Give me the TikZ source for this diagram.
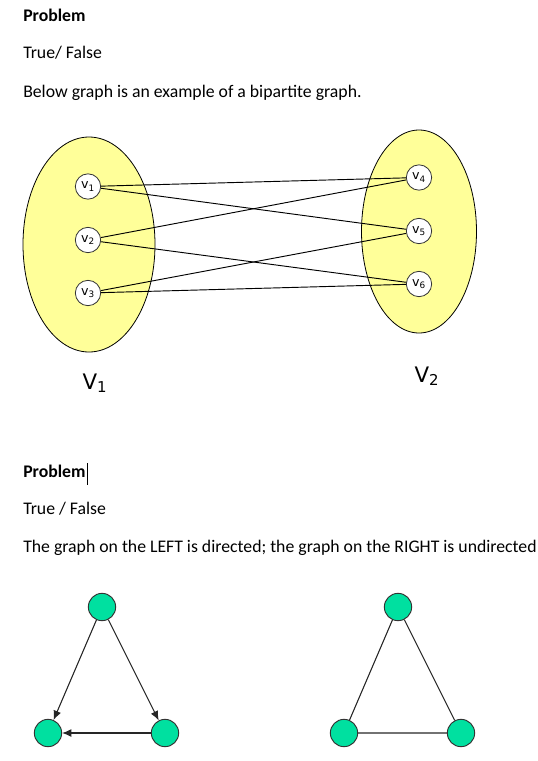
\documentclass[tikz,border=0pt]{standalone}
\usepackage{fontspec}
\setmainfont{Carlito}
\newfontfamily\vfont{DejaVu Sans}
\usetikzlibrary{arrows.meta}

\definecolor{paleyellow}{RGB}{255,255,153}
\definecolor{mint}{RGB}{0,224,160}

\tikzset{
	prose/.style={anchor=base west,inner sep=0pt,font=\fontsize{13.3}{15}\selectfont},
	vertex/.style={circle,draw=black!80,fill=white,line width=0.6pt,minimum size=19pt,inner sep=0pt,font=\vfont\fontsize{9.5}{10}\selectfont},
	dot/.style={circle,draw=black!80,fill=mint,line width=0.7pt,minimum size=20.5pt,inner sep=0pt},
	setname/.style={font=\vfont\fontsize{16}{16}\selectfont},
}

\begin{document}
\begin{tikzpicture}[x=0.75pt,y=-0.75pt]
			\useasboundingbox (0,0) rectangle (538,761);
			\clip (0,0) rectangle (538,761);

			% first question
			\node[prose,font=\fontsize{13.3}{15}\selectfont\bfseries] (prob1) at (23,21) {Problem};
			\node[prose] (tf1) at (23,58) {True/ False};
			\node[prose] (stmt1) at (23,97) {Below graph is an example of a bipartite graph.};

			% the two parts
			\draw[fill=paleyellow,line width=0.6pt] (89,244.5) ellipse (66 and 107.5);
			\draw[fill=paleyellow,line width=0.6pt] (419,231.5) ellipse (57.5 and 101.5);

			\node[vertex] (v1) at (88,186.5) {v\textsubscript{1}};
			\node[vertex] (v2) at (88,240) {v\textsubscript{2}};
			\node[vertex] (v3) at (88,293) {v\textsubscript{3}};
			\node[vertex] (v4) at (419,177.5) {v\textsubscript{4}};
			\node[vertex] (v5) at (419,231) {v\textsubscript{5}};
			\node[vertex] (v6) at (419,284) {v\textsubscript{6}};

			\foreach \a/\b in {v1/v4, v1/v5, v2/v4, v2/v6, v3/v5, v3/v6}
				\draw[line width=0.7pt] (\a) -- (\b);

			\node[setname] (setA) at (95,383) {V\textsubscript{1}};
			\node[setname] (setB) at (427,376) {V\textsubscript{2}};

			% second question
			\node[prose,font=\fontsize{13.3}{15}\selectfont\bfseries] (prob2) at (23,477) {Problem};
			\draw[line width=0.6pt] (prob2.base east) ++(1.5,-14) coordinate (caret) -- ++(0,22);
			\node[prose] (tf2) at (23,514) {True / False};
			\node[prose] (stmt2) at (23,552) {The graph on the LEFT is directed; the graph on the RIGHT is undirected};

			% directed triangle
			\node[dot] (a) at (102,607) {};
			\node[dot] (b) at (48,733) {};
			\node[dot] (c) at (165,733) {};
			\draw[-{Latex[length=7pt,width=6pt]},line width=0.8pt,black!85] (a) -- (b);
			\draw[-{Latex[length=7pt,width=6pt]},line width=0.8pt,black!85] (a) -- (c);
			\draw[-{Latex[length=7pt,width=6pt]},line width=0.8pt,black!85] (c) -- (b);

			% undirected triangle
			\node[dot] (p) at (398,607) {};
			\node[dot] (q) at (344,733) {};
			\node[dot] (r) at (461,733) {};
			\draw[line width=0.8pt,black!85] (p) -- (q) -- (r) -- (p);

		\end{tikzpicture}
\end{document}
